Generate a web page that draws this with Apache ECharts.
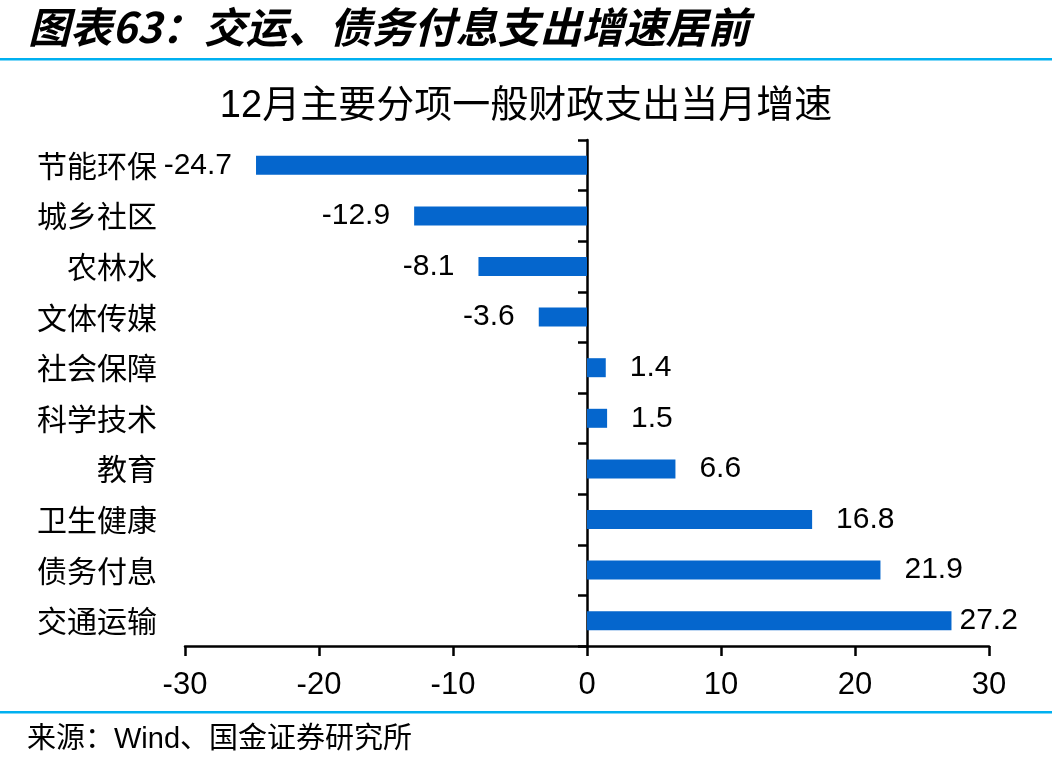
<!DOCTYPE html>
<html>
<head>
<meta charset="utf-8">
<script src="https://cdn.jsdelivr.net/npm/echarts@6/dist/echarts.min.js"></script>
<style>
html,body{margin:0;padding:0;background:#fff;}
#main{width:1052px;height:763px;}
</style>
</head>
<body>
<div id="main"></div>
<script>
const categories = ['节能环保','城乡社区','农林水','文体传媒','社会保障','科学技术','教育','卫生健康','债务付息','交通运输'];
const values = [-24.7, -12.9, -8.1, -3.6, 1.4, 1.5, 6.6, 16.8, 21.9, 27.2];
const xTicks = { min: -30, max: 30, interval: 10 };
const headerText = '图表63：交运、债务付息支出增速居前';
const chartTitle = '12月主要分项一般财政支出当月增速';
const sourceText = '来源：Wind、国金证券研究所';

const FONT = '"Liberation Sans", Arial, "Noto Sans CJK SC", sans-serif';
const CJK = '"Noto Sans CJK SC", sans-serif';

const chart = echarts.init(document.getElementById('main'));
const barData = values.map(v => ({
  value: v,
  label: { position: v < 0 ? 'left' : 'right', distance: v > 25 ? 8 : 24 }
}));

chart.setOption({
  backgroundColor: '#fff',
  animation: false,
  title: {
    text: chartTitle,
    left: 'center',
    top: 83,
    textStyle: { fontSize: 38, fontWeight: 'normal', color: '#000', fontFamily: FONT }
  },
  grid: { left: 185, right: 63, top: 140, bottom: 117, containLabel: false },
  xAxis: {
    type: 'value',
    min: xTicks.min, max: xTicks.max, interval: xTicks.interval,
    axisLine: { show: true, lineStyle: { color: '#000', width: 2.5 } },
    axisTick: { show: true, length: 10, lineStyle: { color: '#000', width: 2.5 } },
    axisLabel: { fontSize: 31, color: '#000', fontFamily: FONT, margin: 24 },
    splitLine: { show: false }
  },
  yAxis: [
    {
      type: 'category',
      data: categories,
      inverse: true,
      position: 'left',
      axisLine: { show: false, onZero: false },
      axisTick: { show: false },
      axisLabel: { fontSize: 30, color: '#000', fontFamily: CJK, margin: 28 }
    },
    {
      type: 'category',
      data: categories,
      inverse: true,
      position: 'left',
      axisLine: { show: true, onZero: true, lineStyle: { color: '#000', width: 2.5 } },
      axisTick: { show: true, length: 9, lineStyle: { color: '#000', width: 2.5 } },
      axisLabel: { show: false }
    }
  ],
  series: [{
    type: 'bar',
    yAxisIndex: 0,
    data: barData,
    barWidth: 19,
    itemStyle: { color: '#0566CD' },
    label: {
      show: true,
      distance: 24,
      fontSize: 30,
      color: '#000',
      fontFamily: FONT
    }
  }],
  graphic: [
    {
      type: 'text', left: 28, top: 6,
      style: { text: headerText, fill: '#000', font: 'italic bold 42px ' + CJK }
    },
    {
      type: 'rect', left: 0, top: 58, shape: { width: 1052, height: 2.5 },
      style: { fill: '#00B0F0' }
    },
    {
      type: 'rect', left: 0, top: 711, shape: { width: 1052, height: 2.5 },
      style: { fill: '#00B0F0' }
    },
    {
      type: 'text', left: 27, top: 725,
      style: { text: sourceText, font: '29px ' + FONT, fill: '#000' }
    }
  ]
});
</script>
</body>
</html>
